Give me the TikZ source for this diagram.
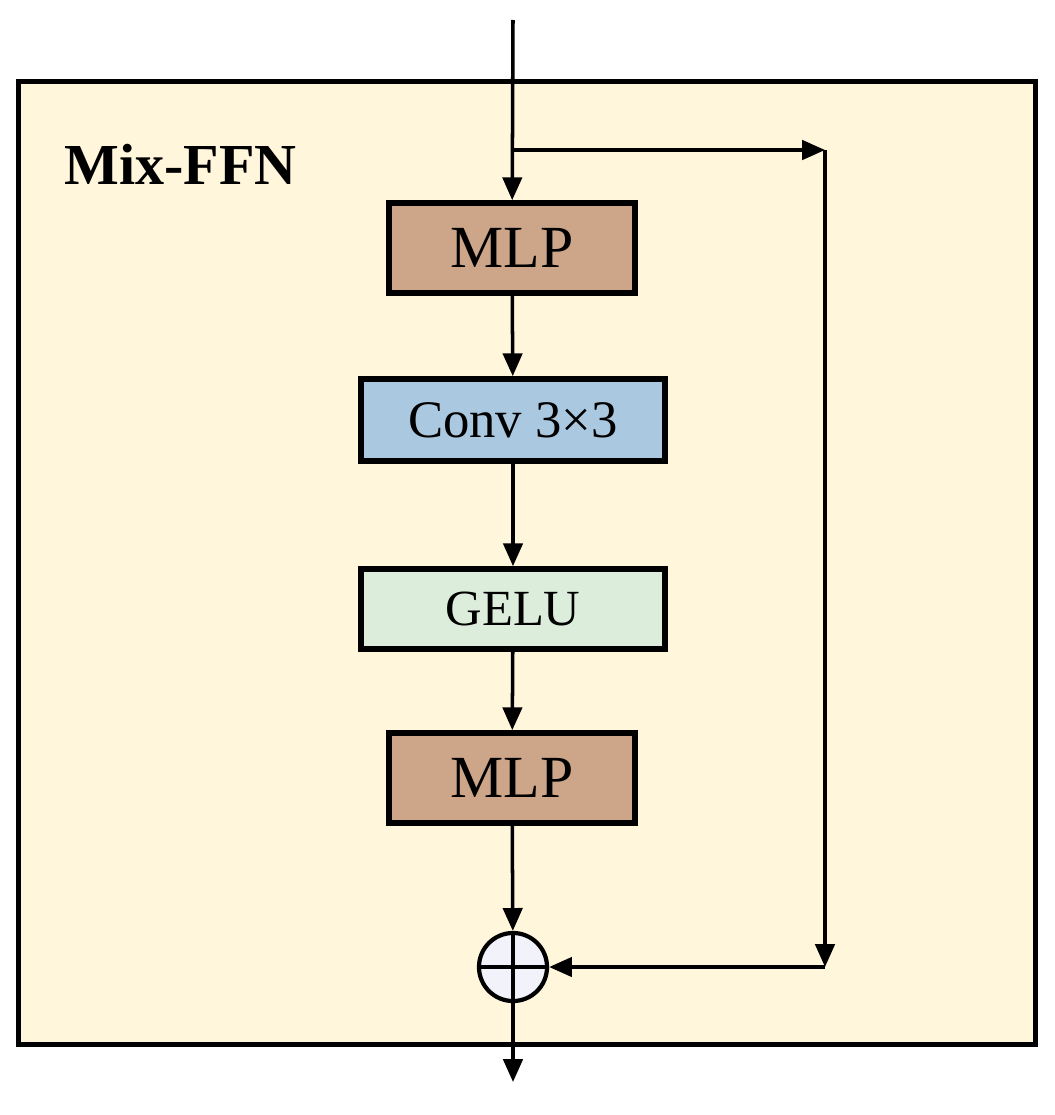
\documentclass[tikz,border=0pt]{standalone}
\usepackage{xcolor}
\usepackage{fontspec}
\setmainfont{Liberation Serif}
\usetikzlibrary{arrows.meta}

\definecolor{framebg}{RGB}{255,246,220}
\definecolor{mlpfill}{RGB}{205,166,138}
\definecolor{convfill}{RGB}{170,200,224}
\definecolor{gelufill}{RGB}{221,237,219}
\definecolor{addfill}{RGB}{242,242,250}

\begin{document}
\begin{tikzpicture}[x=0.01cm,y=-0.01cm,
    block/.style={draw,line width=1.6pt,inner sep=0pt},
    mlpblock/.style={block,fill=mlpfill,minimum width=2.46cm,
          minimum height=0.90cm,font=\fontsize{17}{20}\selectfont},
    flow/.style={line width=1pt,-{Triangle[width=5.5pt,length=6.5pt]}}]
    \useasboundingbox (0,0) rectangle (1054,1115);

    % Outer frame
    \node[draw,line width=1.4pt,fill=framebg,minimum width=10.16cm,
          minimum height=9.63cm,inner sep=0pt] (frame) at (527,563) {};
    \node[font=\fontsize{16.5}{20}\selectfont\bfseries,anchor=west]
          (title) at (52,164) {Mix-FFN};

    % Main path
    \node[mlpblock] (mlpA) at (512,248) {MLP};
    \node[block,fill=convfill,minimum width=3.04cm,minimum height=0.82cm,
          font=\fontsize{15}{18}\selectfont] (conv) at (513,420) {Conv 3×3};
    \node[block,fill=gelufill,minimum width=3.04cm,minimum height=0.80cm,
          font=\fontsize{14.4}{17}\selectfont] (gelu) at (513,609) {GELU};
    \node[mlpblock] (mlpB) at (512,778) {MLP};
    \node[draw,circle,line width=1.2pt,fill=addfill,minimum size=0.68cm,
          inner sep=0pt] (add) at (513,967) {};
    \draw[line width=1.2pt] (add.north) -- (add.south) (add.west) -- (add.east);

    % Skip connection points
    \coordinate (in) at (513,20);
    \coordinate (split) at (513,150);
    \coordinate (turn) at (825,150);
    \coordinate (back) at (825,967);
    \coordinate (out) at (513,1082);

    \draw[flow] (in) -- (mlpA);
    \draw[flow] (mlpA) -- (conv);
    \draw[flow] (conv) -- (gelu);
    \draw[flow] (gelu) -- (mlpB);
    \draw[flow] (mlpB) -- (add);
    \draw[flow] (add) -- (out);
    \draw[flow] (split) -- (turn);
    \draw[flow] (turn) -- (back);
    \draw[flow] (back) -- (add);
\end{tikzpicture}
\end{document}
